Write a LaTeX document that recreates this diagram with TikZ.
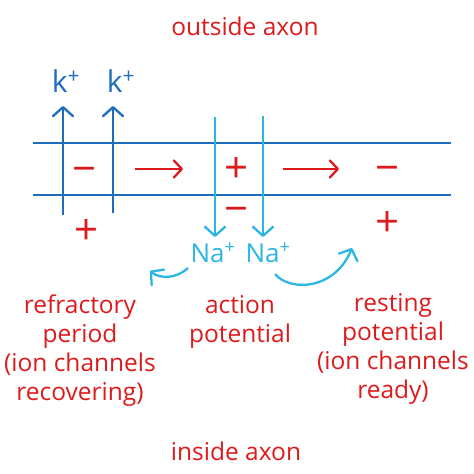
\documentclass[tikz,border=0pt]{standalone}
\usepackage{fontspec}
\setmainfont{Open Sans}
\usetikzlibrary{arrows.meta}
\definecolor{AxRed}{HTML}{DD1B1C}
\definecolor{AxBlue}{HTML}{1F6DC0}
\definecolor{AxCyan}{HTML}{2BB6E4}
\tikzset{
  membrane/.style={AxBlue,line width=2.6pt},
  flowK/.style={-{Straight Barb[length=9pt,width=20pt,round]},AxBlue,line width=2.3pt},
  flowNa/.style={flowK,AxCyan},
  flowred/.style={-{Straight Barb[length=8pt,width=17pt,round]},AxRed,line width=2.3pt},
  swirl/.style={flowNa},
  charge/.style={text=AxRed,font=\fontsize{42}{42}\selectfont,inner sep=0pt,
                 text height=0.65em,text depth=0pt},
  ionK/.style={text=AxBlue,font=\fontsize{30}{30}\selectfont,inner sep=1pt},
  ionNa/.style={ionK,text=AxCyan,font=\fontsize{26}{26}\selectfont},
  label/.style={text=AxRed,font=\fontsize{24.5}{29}\selectfont,align=center},
}
\begin{document}
\begin{tikzpicture}[x=1pt,y=-1pt]
  \useasboundingbox[fill=white] (0,0) rectangle (474,474);

  % membrane
  \coordinate (topL) at (33,143);  \coordinate (topR) at (451,143);
  \coordinate (botL) at (33,195);  \coordinate (botR) at (451,195);
  \draw[membrane] (topL) -- (topR);
  \draw[membrane] (botL) -- (botR);

  % titles
  \node[label] (outside) at (245,26) {outside axon};
  \node[label] (inside) at (236,451) {inside axon};

  % potassium out
  \node[ionK] (kA) at (66,81) {k\textsuperscript{+}};
  \node[ionK] (kB) at (121,81) {k\textsuperscript{+}};
  \coordinate (kAin) at (63,215);  \coordinate (kAout) at (63,106);
  \coordinate (kBin) at (113,213); \coordinate (kBout) at (113,106);
  \draw[flowK] (kAin) -- (kAout);
  \draw[flowK] (kBin) -- (kBout);

  % sodium in
  \node[ionNa] (naA) at (213,253) {Na\textsuperscript{+}};
  \node[ionNa] (naB) at (268,253) {Na\textsuperscript{+}};
  \coordinate (naAout) at (215,117); \coordinate (naAin) at (215,237);
  \coordinate (naBout) at (263,116); \coordinate (naBin) at (263,237);
  \draw[flowNa] (naAout) -- (naAin);
  \draw[flowNa] (naBout) -- (naBin);

  % spreading sodium
  \coordinate (swL) at (188,268); \coordinate (swLtip) at (150,271);
  \coordinate (swR) at (275,274); \coordinate (swRtip) at (352,248);
  \draw[swirl] (swL) .. controls (176,279) and (160,279) .. (swLtip);
  \draw[swirl] (swR) .. controls (290,292) and (335,290) .. (swRtip);

  % charges
  \node[charge] (m1) at (85,180) {−};
  \node[charge] (p1) at (237,179) {+};
  \node[charge] (m2) at (388,179) {−};
  \node[charge] (p2) at (87,241) {+};
  \node[charge] (m3) at (237,220) {−};
  \node[charge] (p3) at (388,233) {+};

  % direction of impulse
  \coordinate (dirAs) at (135,169); \coordinate (dirAe) at (183,169);
  \coordinate (dirBs) at (283,169); \coordinate (dirBe) at (339,169);
  \draw[flowred] (dirAs) -- (dirAe);
  \draw[flowred] (dirBs) -- (dirBe);

  % states
  \node[label] (refractory) at (80,351)
    {refractory\\period\\(ion channels\\recovering)};
  \node[label] (action) at (240,322) {action\\potential};
  \node[label] (resting) at (393,349)
    {resting\\potential\\(ion channels\\ready)};
\end{tikzpicture}
\end{document}
